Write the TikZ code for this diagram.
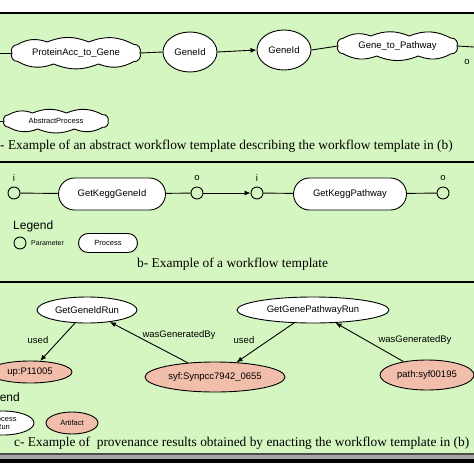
\documentclass[tikz,border=0pt]{standalone}
\usepackage{fontspec}
\setmainfont{Liberation Serif}
\setsansfont{Liberation Sans}
\usetikzlibrary{shapes.geometric,shapes.misc,arrows.meta,calc}
\definecolor{bggreen}{RGB}{214,246,193}
\definecolor{salmon}{RGB}{242,190,172}
\pgfdeclarelayer{bglayer}
\pgfdeclarelayer{cloudlayer}
\pgfsetlayers{bglayer,cloudlayer,main}
\tikzset{
  px/.style={x=1pt,y=-1pt},
  cloudcore/.style={ellipse,inner sep=0pt,font=\sffamily\fontsize{9.5}{11}\selectfont},
  cloudline/.style={draw,fill=white,line width=0.9pt,line join=round},
  ell/.style={ellipse,draw,fill=white,line width=0.9pt,inner sep=0pt,font=\sffamily\fontsize{9.5}{11}\selectfont},
  art/.style={ellipse,draw,fill=salmon,line width=0.9pt,inner sep=0pt,font=\sffamily\fontsize{9.5}{11}\selectfont},
  procbox/.style={rounded rectangle,draw,fill=white,line width=0.9pt,inner sep=0pt,font=\sffamily\fontsize{9.5}{11}\selectfont},
  param/.style={circle,draw,line width=0.9pt,minimum size=12pt,inner sep=0pt},
  conn/.style={line width=0.9pt},
  arr/.style={line width=0.9pt,-{Latex[length=6pt,width=5pt]}},
  lbl/.style={font=\sffamily\fontsize{9.5}{11}\selectfont,inner sep=0pt},
  caption/.style={font=\fontsize{13.4}{15}\selectfont,inner sep=0pt},
}
% #1 node name, #2 half width, #3 half height (pt)
\newcommand{\cloudaround}[3]{%
  \begin{pgfonlayer}{cloudlayer}
  \path[cloudline] let \p0=(#1.center) in
     ({\x0-#2pt},{\y0})
     to[bend left=70] ({\x0-0.92*#2pt},{\y0+0.75*#3pt})
     to[bend left=25] ({\x0-0.45*#2pt},{\y0+1.0*#3pt})
     to[bend left=22] ({\x0+0.2*#2pt},{\y0+1.0*#3pt})
     to[bend left=25] ({\x0+0.9*#2pt},{\y0+0.78*#3pt})
     to[bend left=70] ({\x0+#2pt},{\y0})
     to[bend left=70] ({\x0+0.9*#2pt},{\y0-0.78*#3pt})
     to[bend left=25] ({\x0+0.35*#2pt},{\y0-1.0*#3pt})
     to[bend left=22] ({\x0-0.35*#2pt},{\y0-1.0*#3pt})
     to[bend left=25] ({\x0-0.92*#2pt},{\y0-0.75*#3pt})
     to[bend left=70] ({\x0-#2pt},{\y0}) -- cycle;
  \end{pgfonlayer}}
\begin{document}
\begin{tikzpicture}[px]
\useasboundingbox (0,0) rectangle (474,474);
\clip (0,0) rectangle (474,474);
\begin{pgfonlayer}{bglayer}
\fill[white] (0,0) rectangle (474,474);
\fill[bggreen] (0,13) rectangle (474,453);
\draw[line width=2pt] (0,13) -- (474,13);
\draw[line width=1.8pt] (0,162) -- (474,162);
\draw[line width=1.8pt] (0,282) -- (474,282);
\fill[black!70] (0,453) rectangle (474,455);
\fill[black!35] (0,455) rectangle (474,459);
\fill[black] (0,459) rectangle (474,463);
\end{pgfonlayer}

% ---------- panel a ----------
\coordinate (aL) at (0,53);
\coordinate (aR) at (474,47);
\coordinate (apL) at (0,121);
\node[cloudcore,minimum width=128pt,minimum height=22pt] (pacc) at (76,53) {ProteinAcc\_to\_Gene};
\cloudaround{pacc}{64}{11}
\node[ell,minimum width=54pt,minimum height=40pt] (gid1) at (190,52) {GeneId};
\node[ell,minimum width=54pt,minimum height=40pt] (gid2) at (284,50) {GeneId};
\node[cloudcore,minimum width=119pt,minimum height=20pt] (g2p) at (397.5,46) {Gene\_to\_Pathway};
\cloudaround{g2p}{59.5}{10}
\node[lbl] (ao) at (467,62) {o};
\node[cloudcore,minimum width=104pt,minimum height=16pt,font=\sffamily\fontsize{7.5}{9}\selectfont] (absp) at (56,121) {AbstractProcess};
\cloudaround{absp}{52}{8}
\draw[conn] (aL) -- (pacc.west);
\draw[conn] (pacc.east) -- (gid1.west);
\draw[arr] (gid1.east) -- (gid2.west);
\draw[conn] (gid2.east) -- (g2p.west);
\draw[conn] (g2p.east) -- (aR);
\draw[conn] (apL) -- (absp.west);
\node[caption,anchor=west] (capa) at (0,146) {- Example of an abstract workflow template describing the workflow template in (b)};

% ---------- panel b ----------
\node[param] (i1) at (14,193) {};
\node[param] (o1) at (197,193) {};
\node[param] (i2) at (257,193) {};
\node[param] (o2) at (443,193) {};
\node[lbl] (li1) at (14,178) {i};
\node[lbl] (lo1) at (197,178) {o};
\node[lbl] (li2) at (257,178) {i};
\node[lbl] (lo2) at (443,178) {o};
\node[procbox,minimum width=107pt,minimum height=32pt] (kgg) at (112,194) {GetKeggGeneId};
\node[procbox,minimum width=113pt,minimum height=32pt] (kgp) at (350,194) {GetKeggPathway};
\draw[conn] (i1) -- (kgg);
\draw[conn] (kgg) -- (o1);
\draw[arr] (o1) -- (i2);
\draw[conn] (i2) -- (kgp);
\draw[conn] (kgp) -- (o2);
\node[font=\sffamily\fontsize{12}{14}\selectfont,inner sep=0pt,anchor=west] (legb) at (13,226) {Legend};
\node[param] (legpar) at (20,243) {};
\node[lbl,anchor=west,font=\sffamily\fontsize{7}{8}\selectfont] (legpart) at (31,243) {Parameter};
\node[procbox,minimum width=59pt,minimum height=19pt,font=\sffamily\fontsize{7.5}{9}\selectfont] (legproc) at (108,243) {Process};
\node[caption,anchor=west] (capb) at (137,264) {b- Example of a workflow template};

% ---------- panel c ----------
\node[ell,minimum width=100pt,minimum height=26pt] (run1) at (87,310) {GetGeneIdRun};
\node[ell,minimum width=152pt,minimum height=26pt] (run2) at (313,310) {GetGenePathwayRun};
\node[art,minimum width=84pt,minimum height=22pt] (upp) at (30,372) {up:P11005};
\node[art,minimum width=140pt,minimum height=30pt] (syf) at (215,377) {syf:Synpcc7942\_0655};
\node[art,minimum width=94pt,minimum height=30pt] (path) at (427,375) {path:syf00195};
\draw[arr] (run1) -- (upp);
\draw[arr] (syf) -- (run1);
\draw[arr] (run2) -- (syf);
\draw[arr] (path) -- (run2);
\node[lbl] (lu1) at (38,340) {used};
\node[lbl] (lw1) at (179,335) {wasGeneratedBy};
\node[lbl] (lu2) at (244,340) {used};
\node[lbl] (lw2) at (415,340) {wasGeneratedBy};
\node[font=\sffamily\fontsize{12}{14}\selectfont,inner sep=0pt,anchor=east] (legc) at (20,398) {Legend};
\node[ell,minimum width=62pt,minimum height=24pt,font=\sffamily\fontsize{7.5}{8.5}\selectfont,align=center] (legrun) at (3,423) {Process\\Run};
\node[art,minimum width=52pt,minimum height=22pt,font=\sffamily\fontsize{7.5}{9}\selectfont] (legart) at (72,423) {Artifact};
\node[caption,anchor=west] (capc) at (14,443) {c- Example of\ \ provenance results obtained by enacting the workflow template in (b)};
\end{tikzpicture}
\end{document}
